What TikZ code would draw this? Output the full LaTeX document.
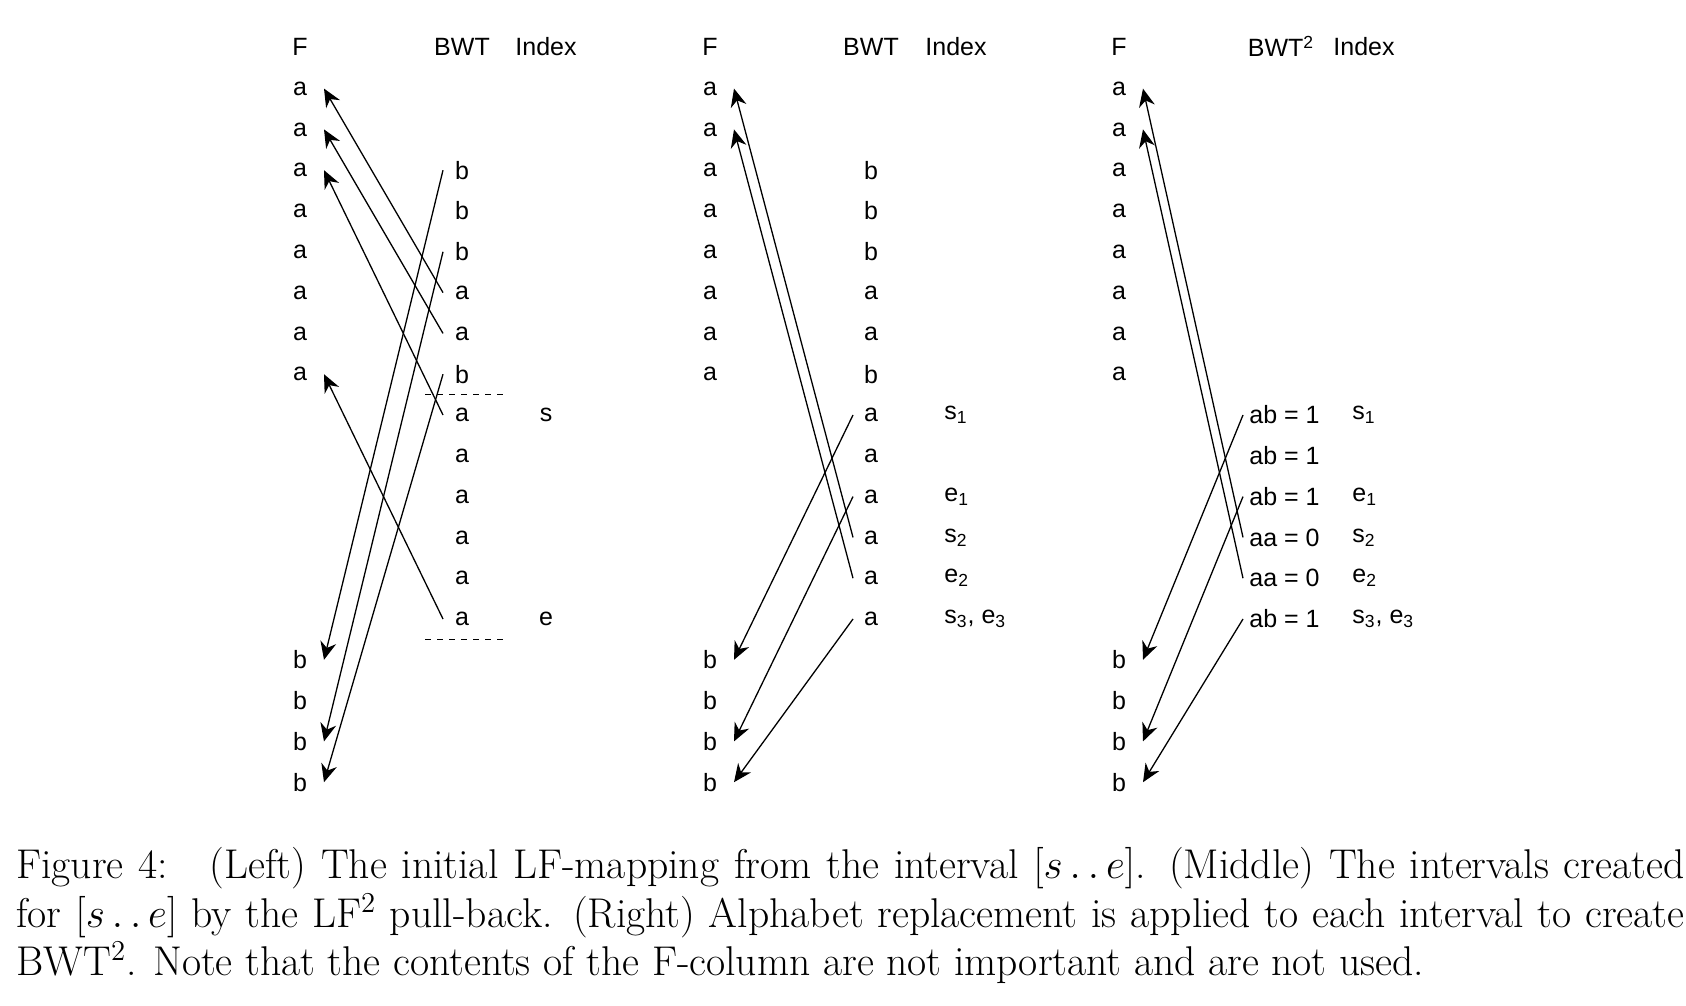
\documentclass[tikz,border=0pt]{standalone}
\usepackage{fontspec}
\setsansfont{Liberation Sans}
\usetikzlibrary{arrows.meta}
\begin{document}
\begin{tikzpicture}[x=0.5pt,y=-0.5pt,
  lab/.style={font=\sffamily\fontsize{12.5}{14}\selectfont, inner sep=0pt},
  arr/.style={-{Stealth[length=9pt,width=8pt]}, line width=0.65pt},
  dsh/.style={dashed, line width=0.5pt}]
\useasboundingbox (0,0) rectangle (1686,1006);
\def\ry#1{88.6+40.8*#1}
% F columns
\foreach \P/\fx in {L/300, M/710, R/1119}{
  \node[lab] (\P F) at (\fx,46.5) {F};
  \foreach \r in {0,...,7}{ \node[lab] (\P f\r) at (\fx,{\ry{\r}}) {a}; }
  \foreach \r in {14,...,17}{ \node[lab] (\P f\r) at (\fx,{\ry{\r}}) {b}; }
  \foreach \r in {0,...,17}{ \coordinate (\P t\r) at (\fx+24,{\ry{\r}}); }
}
% Left panel
\node[lab] (LB) at (462,46.5) {BWT};
\node[lab] (LI) at (546,46.5) {Index};
\foreach \r/\c in {2/b,3/b,4/b,5/a,6/a,7/b,8/a,9/a,10/a,11/a,12/a,13/a}{
  \node[lab] (Lb\r) at (462,{\ry{\r}}) {\c};
  \coordinate (Ls\r) at (443,{\ry{\r}});
}
\node[lab] (Ls) at (546,{\ry{8}}) {s};
\node[lab] (Le) at (546,{\ry{13}}) {e};
\coordinate (d1a) at (425,{\ry{7.5}}); \coordinate (d1b) at (505,{\ry{7.5}});
\coordinate (d2a) at (425,{\ry{13.5}}); \coordinate (d2b) at (505,{\ry{13.5}});
\draw[dsh] (d1a) -- (d1b);
\draw[dsh] (d2a) -- (d2b);
\foreach \a/\b in {5/0,6/1,8/2,13/7,2/14,4/16,7/17}{ \draw[arr] (Ls\a) -- (Lt\b); }
% Middle panel
\node[lab] (MB) at (871,46.5) {BWT};
\node[lab] (MI) at (956,46.5) {Index};
\foreach \r/\c in {2/b,3/b,4/b,5/a,6/a,7/b,8/a,9/a,10/a,11/a,12/a,13/a}{
  \node[lab] (Mb\r) at (871,{\ry{\r}}) {\c};
  \coordinate (Ms\r) at (853,{\ry{\r}});
}
\foreach \r/\t in {8/s\textsubscript{1},10/e\textsubscript{1},11/s\textsubscript{2},12/e\textsubscript{2},13/{s\textsubscript{3}, e\textsubscript{3}}}{
  \node[lab,anchor=west] (Mi\r) at (944,{\ry{\r}}) {\t};
}
\foreach \a/\b in {8/14,10/16,13/17,11/0,12/1}{ \draw[arr] (Ms\a) -- (Mt\b); }
% Right panel
\node[lab] (RB) at (1281,46.5) {BWT\textsuperscript{2}};
\node[lab] (RI) at (1364,46.5) {Index};
\foreach \r/\c in {8/ab = 1,9/ab = 1,10/ab = 1,11/aa = 0,12/aa = 0,13/ab = 1}{
  \node[lab,anchor=west] (Rb\r) at (1249,{\ry{\r}}) {\c};
  \coordinate (Rs\r) at (1243,{\ry{\r}});
}
\foreach \r/\t in {8/s\textsubscript{1},10/e\textsubscript{1},11/s\textsubscript{2},12/e\textsubscript{2},13/{s\textsubscript{3}, e\textsubscript{3}}}{
  \node[lab,anchor=west] (Ri\r) at (1352,{\ry{\r}}) {\t};
}
\foreach \a/\b in {8/14,10/16,13/17,11/0,12/1}{ \draw[arr] (Rs\a) -- (Rt\b); }
% Caption
\node[anchor=north west, inner sep=0pt, text width=834pt, align=justify,
  font=\rmfamily\fontsize{20.8}{24.3}\selectfont] (cap) at (16,847)
{Figure 4:\quad (Left) The initial LF-mapping from the interval $[s\mathinner{\ldotp\ldotp}e]$. (Middle) The intervals created\linebreak
for $[s\mathinner{\ldotp\ldotp}e]$ by the LF$^2$ pull-back. (Right) Alphabet replacement is applied to each interval to create\linebreak
BWT$^2$. Note that the contents of the F-column are not important and are not used.};
\end{tikzpicture}
\end{document}
